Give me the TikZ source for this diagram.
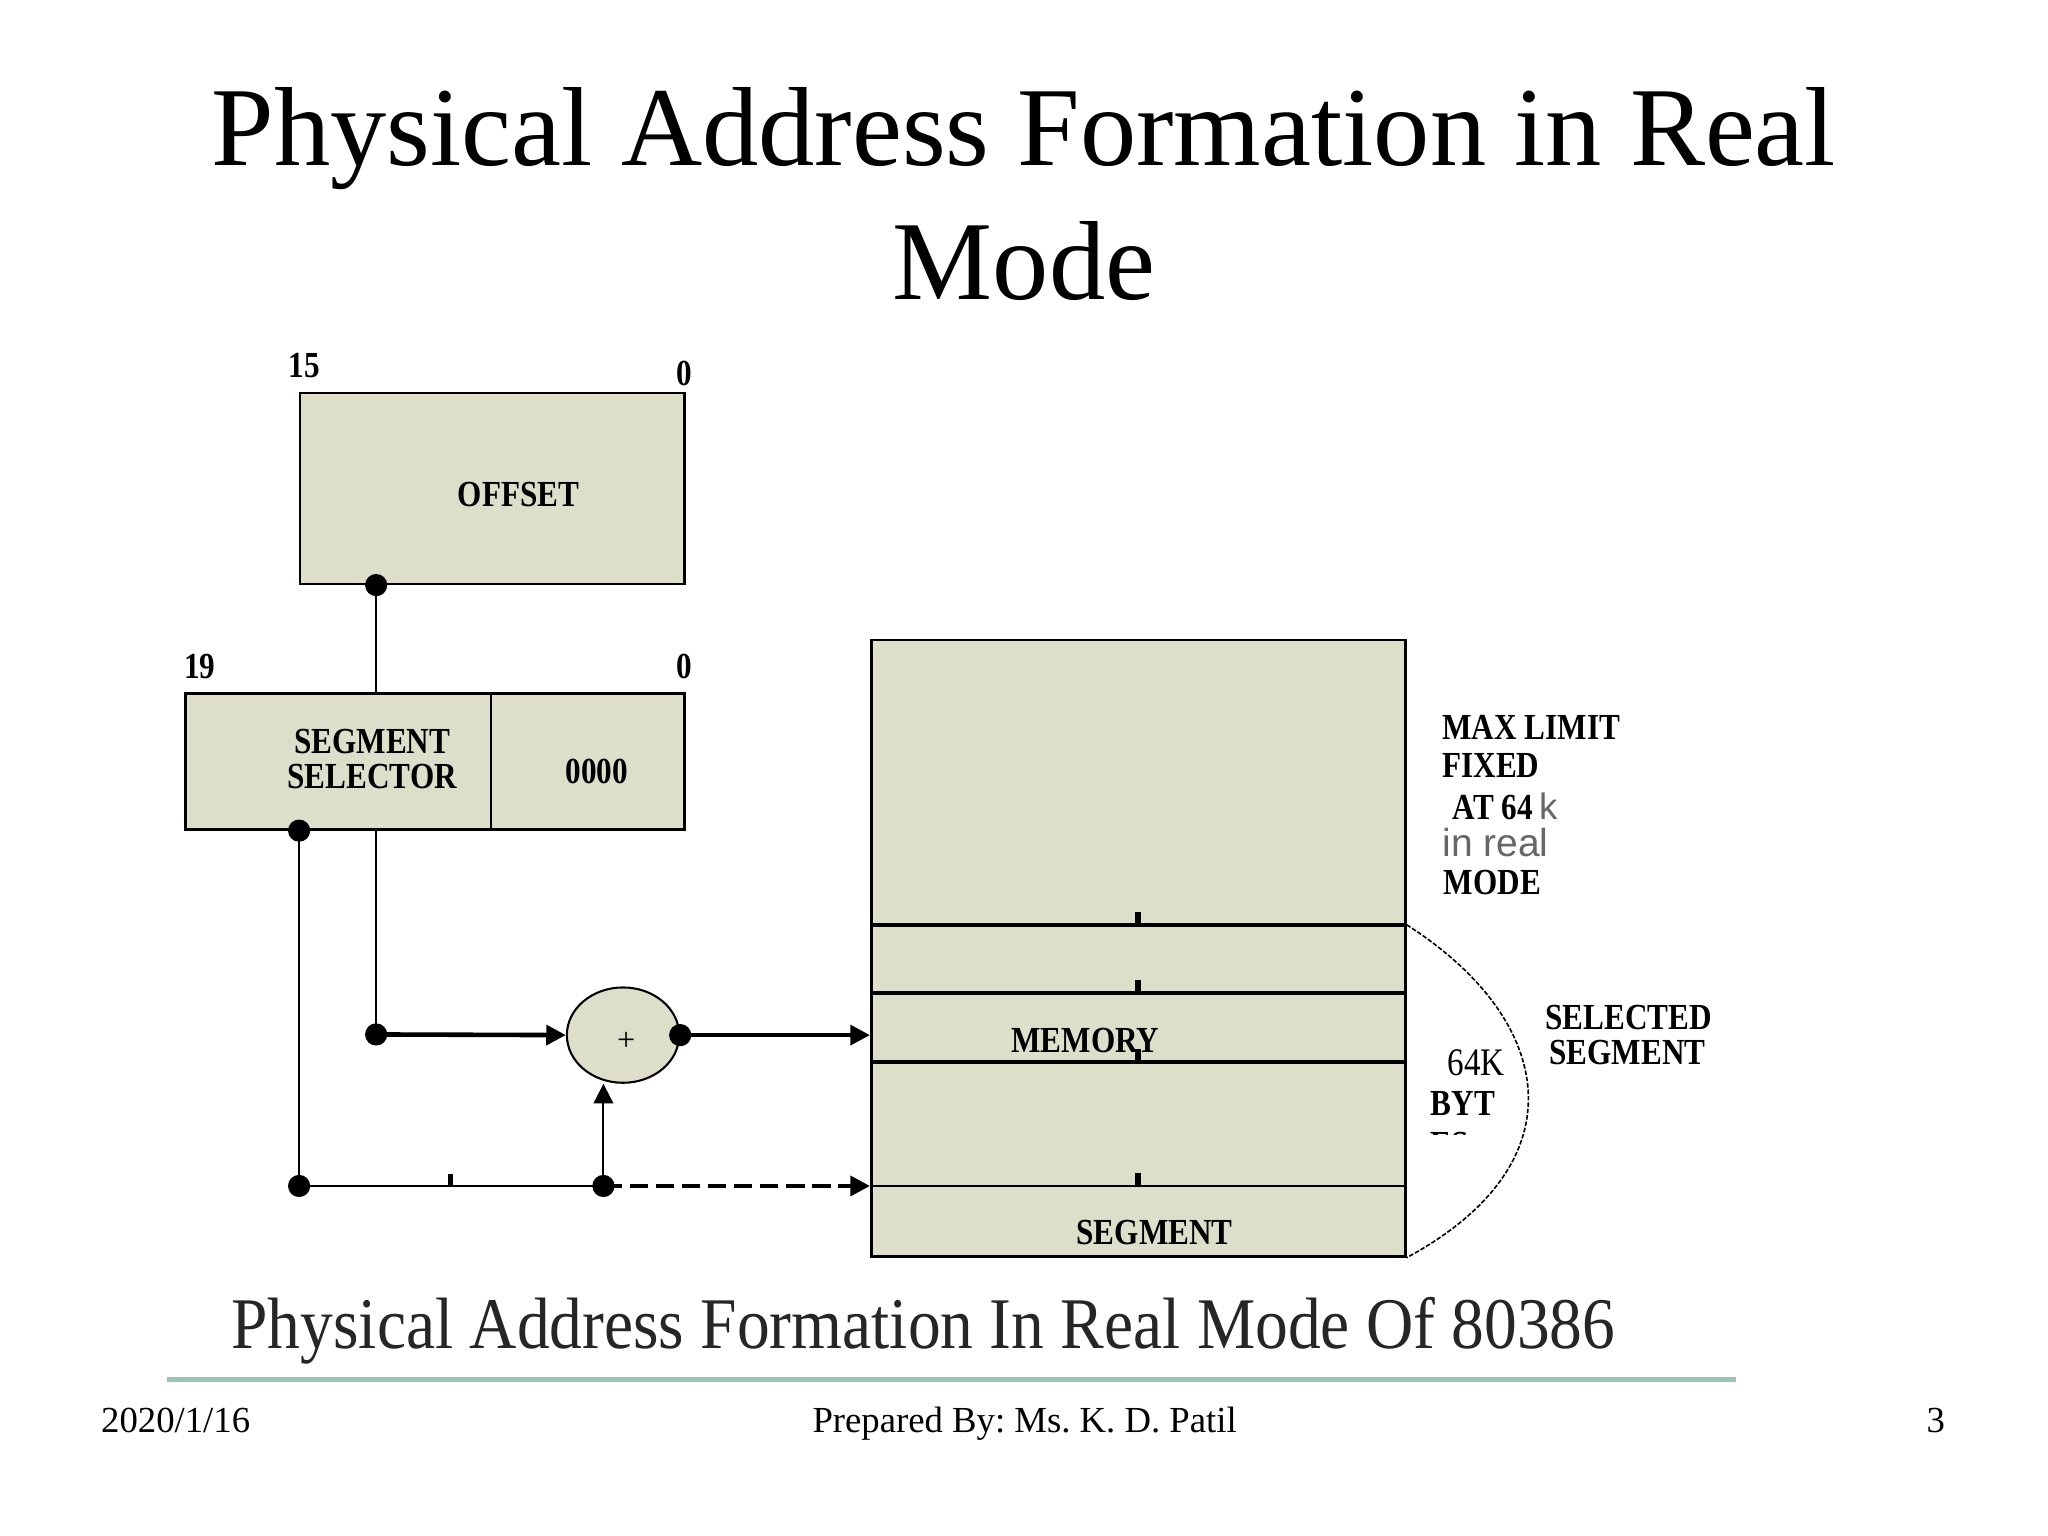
\documentclass[tikz,border=0pt]{standalone}
\usepackage{fontspec}
\setmainfont{Liberation Serif}
\newfontfamily\lblfont[FakeStretch=0.85]{Liberation Serif}
\newfontfamily\capfont[FakeStretch=0.9]{Liberation Serif}
\newfontfamily\notefont{Liberation Sans}
\usepackage{tikz}
\usetikzlibrary{arrows.meta,shapes.geometric}
\definecolor{boxfill}{RGB}{221,223,203}
\definecolor{rulegreen}{RGB}{155,196,178}
\frenchspacing

\begin{document}
\begin{tikzpicture}[x=0.02cm,y=-0.02cm,
  reg/.style={draw,line width=1.1pt,fill=boxfill,inner sep=0pt},
  lbl/.style={font=\lblfont\bfseries\fontsize{16}{18}\selectfont,inner sep=0pt},
  dot/.style={circle,fill,inner sep=0pt,minimum size=0.34cm},
  wire/.style={line width=0.9pt},
  bus/.style={line width=2pt},
  tip/.style={-{Triangle[length=0.3cm,width=0.3cm]}}]
\useasboundingbox (0,0) rectangle (1568,1176);

\node[anchor=base,font=\fontsize{49}{58}\selectfont] (title) at (784,127) {Physical Address Formation in Real};
\node[anchor=base,font=\fontsize{49}{58}\selectfont] (title2) at (784,229) {Mode};

\node[reg,minimum width=5.89cm,minimum height=2.92cm] (offset) at (376.75,374) {};
\node[lbl] (offsetlbl) at (397,378.5) {OFFSET};
\node[lbl] (bit15) at (233,280) {15};
\node[lbl] (bit0a) at (524,286) {0};

\node[reg,minimum width=4.68cm,minimum height=2.08cm] (seg) at (259,583) {};
\node[reg,minimum width=2.96cm,minimum height=2.08cm] (zeros) at (450,583) {};
\node[lbl,align=center] (seglbl) at (285,581) {SEGMENT\\[-3pt]SELECTOR};
\node[lbl] (zeroslbl) at (457,590.5) {0000};
\node[lbl] (bit19) at (153,510.5) {19};
\node[lbl] (bit0b) at (524,510.5) {0};

\node[reg,minimum width=8.18cm,minimum height=9.44cm] (memory) at (871.5,726) {};
\foreach \y in {708,760,813}
  \draw[line width=1.6pt] (667,\y) -- (1076,\y);
\draw[line width=1pt] (667,908) -- (1076,908);
\foreach \y in {708,760,813,908}
  \fill (869,\y-10) rectangle (873.5,\y+1);
\node[lbl] (memlbl) at (831,797) {MEMORY};
\node[lbl] (memseg) at (884,944) {SEGMENT};

\node[draw,ellipse,line width=0.9pt,fill=boxfill,inner sep=0pt,
  minimum width=1.72cm,minimum height=1.46cm] (adder) at (477,792.5) {};
\node[font=\fontsize{14}{14}\selectfont,inner sep=0pt] (plus) at (479.5,797) {+};

\coordinate (c288) at (288,0);
\coordinate (c229) at (229,0);
\coordinate (sumin) at (288,792);
\coordinate (base) at (229,908);
\coordinate (fork) at (462,908);

\draw[wire] (offset.south -| c288) -- (seg.north -| c288);
\draw[wire] (seg.south -| c229) -- (base) -- (fork);
\draw[wire] (seg.south -| c288) -- (sumin);
\draw[bus,tip] (sumin) -- (adder.west);
\draw[bus,tip] (adder.east) -- (adder.east -| memory.west);
\draw[wire,tip] (fork) -- (fork |- adder.south);
\draw[bus,dash pattern=on 0.28cm off 0.12cm,tip] (fork) -- (fork -| memory.west);
\draw[line width=2pt] (345,899) -- (345,908);

\foreach \p in {offset.south -| c288,seg.south -| c229,sumin,adder.east,base,fork}
  \node[dot] at (\p) {};

\draw[line width=0.7pt,dash pattern=on 2pt off 0.8pt] (memory.east |- 0,708)
  .. controls (1190,780) and (1212,890) .. (memory.south east);

\node[lbl,anchor=west] (maxlbl) at (1104,557) {MAX LIMIT};
\node[lbl,anchor=west] (fixlbl) at (1104,586) {FIXED};
\node[lbl,anchor=west] (atlbl) at (1112,617.5) {AT 64\,{\notefont\mdseries\color{black!60}k}};
\node[anchor=west,inner sep=0pt,font=\notefont\fontsize{17}{18}\selectfont,text=black!60] (inreal) at (1104,645) {in real};
\node[lbl,anchor=west] (modelbl) at (1105,676) {MODE};
\node[lbl,anchor=west] (sellbl) at (1183,779) {SELECTED};
\node[lbl,anchor=west] (sellbl2) at (1186,806) {SEGMENT};
\node[lbl,anchor=west,font=\lblfont\fontsize{17}{18}\selectfont] (kblbl) at (1108,813.5) {64K};
\node[lbl,anchor=west] (bytlbl) at (1095,845) {BYT};
\begin{scope}
  \clip (1090,859) rectangle (1140,868.5);
  \node[lbl,anchor=west] (eslbl) at (1095,876) {ES};
\end{scope}

\node[anchor=base,font=\capfont\fontsize{31.7}{33}\selectfont,text=black!85] (caption) at (707,1032.5) {Physical Address Formation In Real Mode Of 80386};
\draw[rulegreen,line width=0.07cm] (128,1056) -- (1329,1056);

\node[anchor=base,font=\fontsize{16}{18}\selectfont] (date) at (134.5,1097) {2020/1/16};
\node[anchor=base,font=\fontsize{16}{18}\selectfont] (author) at (784.5,1097) {Prepared By: Ms. K. D. Patil};
\node[anchor=base,font=\fontsize{16}{18}\selectfont] (page) at (1482,1097) {3};
\end{tikzpicture}
\end{document}
